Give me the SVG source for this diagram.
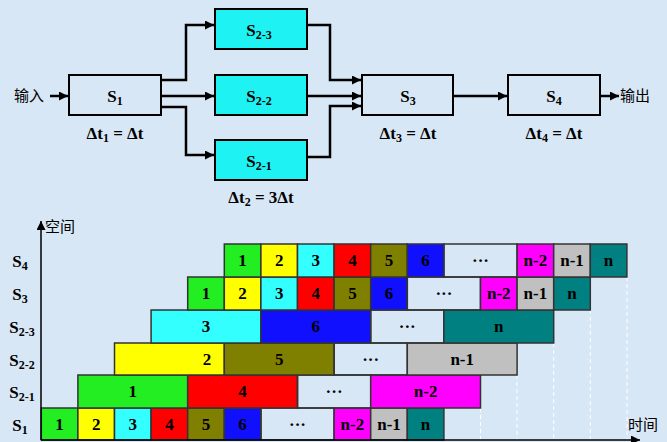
<svg xmlns="http://www.w3.org/2000/svg" width="667" height="442" viewBox="0 0 667 442">
<defs>
<marker id="ar" viewBox="0 0 10 10" refX="10" refY="5" markerWidth="9" markerHeight="9" markerUnits="userSpaceOnUse" orient="auto"><path d="M0,0 L10,5 L0,10 z" fill="#000"/></marker>
<style>
.t{font-family:"Liberation Serif",serif;font-weight:bold;font-size:17px;text-anchor:middle;fill:#000}
.c{font-family:"Liberation Sans","Noto Sans CJK SC",sans-serif;font-size:15px;fill:#000}
.b{fill:none;stroke:#000;stroke-width:2}
.cy{fill:#1ff2f2;stroke:#000;stroke-width:2}
.w{fill:none;stroke:#000;stroke-width:2}
.ln{fill:none;stroke:#000;stroke-width:2.5}
.cell{stroke:#333;stroke-width:1.5}
.dash{stroke:#fff;stroke-width:1;stroke-dasharray:4,3}
</style>
</defs>
<rect width="667" height="442" fill="#d8e7f6"/>
<g id="connectors">
<path class="ln" d="M161,80 H186 V25 H214" marker-end="url(#ar)"/>
<path class="ln" d="M161,96 H214" marker-end="url(#ar)"/>
<path class="ln" d="M161,107 H186 V155 H214" marker-end="url(#ar)"/>
<path class="ln" d="M307,25 H330 V80 H361" marker-end="url(#ar)"/>
<path class="ln" d="M307,96 H361" marker-end="url(#ar)"/>
<path class="ln" d="M307,157 H330 V106 H361" marker-end="url(#ar)"/>
<path class="ln" d="M453,96 H507" marker-end="url(#ar)"/>
<path class="ln" d="M600,96 H619" marker-end="url(#ar)"/>
<path class="ln" d="M50,96 H68" marker-end="url(#ar)"/>
</g>
<text class="c" x="14" y="101">输入</text>
<text class="c" x="620" y="101">输出</text>
<g id="S1"><rect class="w" x="69" y="75" width="92" height="40"/><text class="t" x="115" y="102">S<tspan font-size="12" dy="3">1</tspan></text><text class="t" x="115" y="139">Δt<tspan font-size="12" dy="3">1</tspan><tspan dy="-3"> = Δt</tspan></text></g>
<g id="S2-3"><rect class="cy" x="215" y="9" width="92" height="40"/><text class="t" x="259" y="36">S<tspan font-size="12" dy="3">2-3</tspan></text></g>
<g id="S2-2"><rect class="cy" x="215" y="75" width="92" height="40"/><text class="t" x="259" y="102">S<tspan font-size="12" dy="3">2-2</tspan></text></g>
<g id="S2-1"><rect class="cy" x="215" y="140" width="92" height="40"/><text class="t" x="259" y="167">S<tspan font-size="12" dy="3">2-1</tspan></text><text class="t" x="261" y="203">Δt<tspan font-size="12" dy="3">2</tspan><tspan dy="-3"> = 3Δt</tspan></text></g>
<g id="S3"><rect class="w" x="362" y="75" width="91" height="40"/><text class="t" x="408" y="102">S<tspan font-size="12" dy="3">3</tspan></text><text class="t" x="408" y="139">Δt<tspan font-size="12" dy="3">3</tspan><tspan dy="-3"> = Δt</tspan></text></g>
<g id="S4"><rect class="w" x="508" y="75" width="92" height="40"/><text class="t" x="554" y="102">S<tspan font-size="12" dy="3">4</tspan></text><text class="t" x="554" y="139">Δt<tspan font-size="12" dy="3">4</tspan><tspan dy="-3"> = Δt</tspan></text></g>

<g id="chart">
<!-- dashed -->
<line class="dash" x1="480.5" y1="408" x2="480.5" y2="440"/>
<line class="dash" x1="517" y1="375" x2="517" y2="440"/>
<line class="dash" x1="553.7" y1="343" x2="553.7" y2="440"/>
<line class="dash" x1="590.3" y1="310" x2="590.3" y2="440"/>
<line class="dash" x1="627" y1="277" x2="627" y2="440"/>
<!-- S1 row y408-440 -->
<g>
<rect class="cell" x="41.3" y="408" width="36.6" height="32" fill="#22ee22"/>
<rect class="cell" x="77.9" y="408" width="36.6" height="32" fill="#ffff00"/>
<rect class="cell" x="114.5" y="408" width="36.6" height="32" fill="#33ffff"/>
<rect class="cell" x="151.1" y="408" width="36.6" height="32" fill="#ff0000"/>
<rect class="cell" x="187.7" y="408" width="36.6" height="32" fill="#808000"/>
<rect class="cell" x="224.3" y="408" width="36.6" height="32" fill="#1010ff"/>
<rect class="cell" x="260.9" y="408" width="73.2" height="32" fill="none"/>
<rect class="cell" x="334.1" y="408" width="36.6" height="32" fill="#ff00ff"/>
<rect class="cell" x="370.7" y="408" width="36.6" height="32" fill="#c0c0c0"/>
<rect class="cell" x="407.3" y="408" width="36.6" height="32" fill="#008080"/>
<g class="t"><text x="59.6" y="430">1</text><text x="96.2" y="430">2</text><text x="132.8" y="430">3</text><text x="169.4" y="430">4</text><text x="206" y="430">5</text><text x="242.6" y="430">6</text><text x="297.5" y="430">···</text><text x="352.4" y="430">n-2</text><text x="389" y="430">n-1</text><text x="425.6" y="430">n</text></g>
</g>
<!-- S2-1 y375-408 -->
<g>
<rect class="cell" x="77.9" y="375" width="109.8" height="33" fill="#22ee22"/>
<rect class="cell" x="187.7" y="375" width="109.8" height="33" fill="#ff0000"/>
<rect class="cell" x="297.5" y="375" width="73.2" height="33" fill="none"/>
<rect class="cell" x="370.7" y="375" width="109.8" height="33" fill="#ff00ff"/>
<g class="t"><text x="132.8" y="397">1</text><text x="242.6" y="397">4</text><text x="334.1" y="397">···</text><text x="425.6" y="397">n-2</text></g>
</g>
<!-- S2-2 y343-375 -->
<g>
<rect class="cell" x="114.5" y="343" width="109.8" height="32" fill="#ffff00"/>
<rect class="cell" x="224.3" y="343" width="109.8" height="32" fill="#808000"/>
<rect class="cell" x="334.1" y="343" width="73.2" height="32" fill="none"/>
<rect class="cell" x="407.3" y="343" width="109.8" height="32" fill="#c0c0c0"/>
<g class="t"><text x="207" y="365">2</text><text x="279.2" y="365">5</text><text x="370.7" y="365">···</text><text x="462.2" y="365">n-1</text></g>
</g>
<!-- S2-3 y310-343 -->
<g>
<rect class="cell" x="151.1" y="310" width="109.8" height="33" fill="#33ffff"/>
<rect class="cell" x="260.9" y="310" width="109.8" height="33" fill="#1010ff"/>
<rect class="cell" x="370.7" y="310" width="73.2" height="33" fill="none"/>
<rect class="cell" x="443.9" y="310" width="109.8" height="33" fill="#008080"/>
<g class="t"><text x="206" y="332">3</text><text x="315.8" y="332">6</text><text x="407.3" y="332">···</text><text x="498.8" y="332">n</text></g>
</g>
<!-- S3 y277-310 -->
<g>
<rect class="cell" x="187.7" y="277" width="36.6" height="33" fill="#22ee22"/>
<rect class="cell" x="224.3" y="277" width="36.6" height="33" fill="#ffff00"/>
<rect class="cell" x="260.9" y="277" width="36.6" height="33" fill="#33ffff"/>
<rect class="cell" x="297.5" y="277" width="36.6" height="33" fill="#ff0000"/>
<rect class="cell" x="334.1" y="277" width="36.6" height="33" fill="#808000"/>
<rect class="cell" x="370.7" y="277" width="36.6" height="33" fill="#1010ff"/>
<rect class="cell" x="407.3" y="277" width="73.2" height="33" fill="none"/>
<rect class="cell" x="480.5" y="277" width="36.6" height="33" fill="#ff00ff"/>
<rect class="cell" x="517.1" y="277" width="36.6" height="33" fill="#c0c0c0"/>
<rect class="cell" x="553.7" y="277" width="36.6" height="33" fill="#008080"/>
<g class="t"><text x="206" y="299">1</text><text x="242.6" y="299">2</text><text x="279.2" y="299">3</text><text x="315.8" y="299">4</text><text x="352.4" y="299">5</text><text x="389" y="299">6</text><text x="443.9" y="299">···</text><text x="498.8" y="299">n-2</text><text x="535.4" y="299">n-1</text><text x="572" y="299">n</text></g>
</g>
<!-- S4 y244-277 -->
<g>
<rect class="cell" x="224.3" y="244" width="36.6" height="33" fill="#22ee22"/>
<rect class="cell" x="260.9" y="244" width="36.6" height="33" fill="#ffff00"/>
<rect class="cell" x="297.5" y="244" width="36.6" height="33" fill="#33ffff"/>
<rect class="cell" x="334.1" y="244" width="36.6" height="33" fill="#ff0000"/>
<rect class="cell" x="370.7" y="244" width="36.6" height="33" fill="#808000"/>
<rect class="cell" x="407.3" y="244" width="36.6" height="33" fill="#1010ff"/>
<rect class="cell" x="443.9" y="244" width="73.2" height="33" fill="none"/>
<rect class="cell" x="517.1" y="244" width="36.6" height="33" fill="#ff00ff"/>
<rect class="cell" x="553.7" y="244" width="36.6" height="33" fill="#c0c0c0"/>
<rect class="cell" x="590.3" y="244" width="36.6" height="33" fill="#008080"/>
<g class="t"><text x="242.6" y="266">1</text><text x="279.2" y="266">2</text><text x="315.8" y="266">3</text><text x="352.4" y="266">4</text><text x="389" y="266">5</text><text x="425.6" y="266">6</text><text x="480.5" y="266">···</text><text x="535.4" y="266">n-2</text><text x="572" y="266">n-1</text><text x="608.6" y="266">n</text></g>
</g>
<!-- axes -->
<line x1="41" y1="440" x2="41" y2="221" stroke="#000" stroke-width="1.5" marker-end="url(#ar)"/>
<line x1="41" y1="440" x2="640" y2="440" stroke="#000" stroke-width="1.5" marker-end="url(#ar)"/>
<text class="c" x="45" y="232">空间</text>
<text class="c" x="628" y="430">时间</text>
<g class="t">
<text x="20" y="267">S<tspan font-size="12" dy="3">4</tspan></text>
<text x="20" y="300">S<tspan font-size="12" dy="3">3</tspan></text>
<text x="22" y="333">S<tspan font-size="12" dy="3">2-3</tspan></text>
<text x="22" y="366">S<tspan font-size="12" dy="3">2-2</tspan></text>
<text x="22" y="398">S<tspan font-size="12" dy="3">2-1</tspan></text>
<text x="20" y="431">S<tspan font-size="12" dy="3">1</tspan></text>
</g>
</g>
</svg>
